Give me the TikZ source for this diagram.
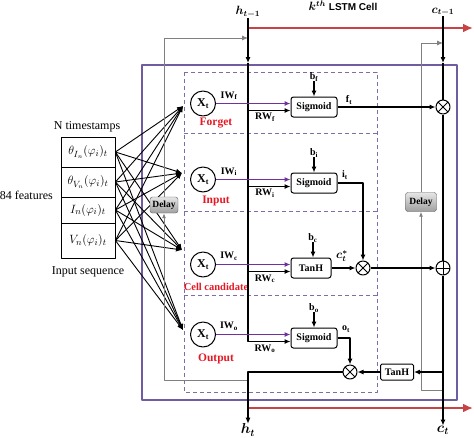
\documentclass[tikz,border=0pt]{standalone}
\usepackage{fontspec}
\usepackage{bm}
\setmainfont{Liberation Serif}
\newfontfamily\cellsans{Liberation Sans}
\usetikzlibrary{arrows.meta,calc}

\definecolor{cellpurple}{RGB}{112,92,160}
\definecolor{iwpurple}{RGB}{112,48,160}
\definecolor{dashpurple}{RGB}{128,108,168}
\definecolor{flowred}{RGB}{200,68,68}
\definecolor{gatered}{RGB}{228,24,36}
\definecolor{loopgray}{RGB}{128,128,128}

\begin{document}
\begin{tikzpicture}[x=1pt,y=-1pt,line join=round,
    >={Latex[length=6pt,width=5pt]},
    wire/.style={line width=1.1pt},
    inwire/.style={line width=0.9pt},
    iwwire/.style={line width=1.1pt,draw=iwpurple,-{Latex[length=6pt,width=5pt,fill=iwpurple]}},
    loopwire/.style={line width=0.9pt,draw=loopgray},
    redflow/.style={line width=2.6pt,draw=flowred,-{Latex[length=10pt,width=9pt]}},
    dashbox/.style={draw=dashpurple,line width=0.9pt,dash pattern=on 4pt off 3pt},
    gatebox/.style={draw,line width=1pt,rounded corners=2.5pt,minimum width=46pt,
        minimum height=20pt,inner sep=1pt,font=\bfseries\fontsize{10}{11}\selectfont},
    xcirc/.style={draw,circle,line width=1pt,minimum size=25pt,inner sep=0pt,
        font=\bfseries\fontsize{12}{13}\selectfont},
    opcirc/.style={draw,circle,line width=1pt,minimum size=14pt,inner sep=0pt},
    timesop/.style={opcirc,path picture={
        \draw[line width=1pt] (path picture bounding box.north west) -- (path picture bounding box.south east)
            (path picture bounding box.north east) -- (path picture bounding box.south west);}},
    sumop/.style={opcirc,path picture={
        \draw[line width=1pt] (path picture bounding box.north) -- (path picture bounding box.south)
            (path picture bounding box.east) -- (path picture bounding box.west);}},
    delaybox/.style={draw=gray!70!black,rounded corners=2.5pt,top color=gray!20,bottom color=gray!75,
        inner sep=1pt,font=\bfseries\fontsize{9.5}{10}\selectfont},
    wlabel/.style={inner sep=0pt,font=\bfseries\fontsize{10}{11}\selectfont},
    gatename/.style={inner sep=0pt,text=gatered,font=\bfseries\fontsize{11.5}{12}\selectfont},
    seqcell/.style={draw,line width=0.8pt,minimum width=54pt,inner sep=0pt,font=\fontsize{13}{14}\selectfont},
    plaintext/.style={inner sep=0pt,font=\fontsize{12}{13}\selectfont},
    statelbl/.style={inner sep=0pt,font=\fontsize{12}{13}\selectfont}]
    \useasboundingbox (0,0) rectangle (474,437);

    % LSTM cell
    \draw[cellpurple,line width=2.8pt] (142,65) rectangle (457,400);
    \draw[dashbox] (184,72) rectangle (377,392);
    \foreach \yy in {133,211,295}
        \draw[dashbox] (184,\yy) -- (377,\yy);
    \node[inner sep=0pt,font=\fontsize{12}{13}\selectfont] (title) at (343,6)
        {$\bm{k^{th}}$ {\cellsans\bfseries\fontsize{10}{11}\selectfont LSTM Cell}};

    % states in and out
    \node[statelbl] (hprev) at (248,12) {$\bm{h_{t-1}}$};
    \node[statelbl] (cprev) at (443,12) {$\bm{c_{t-1}}$};
    \node[statelbl,font=\fontsize{14}{15}\selectfont] (hcur) at (248,430) {$\bm{h_t}$};
    \node[statelbl,font=\fontsize{14}{15}\selectfont] (ccur) at (443,430) {$\bm{c_t}$};
    \coordinate (hin) at (248,63);
    \coordinate (cin) at (443,63);

    % gates
    \node[gatebox] (sigf) at (314,107) {Sigmoid};
    \node[gatebox] (sigi) at (314,183) {Sigmoid};
    \node[gatebox,minimum width=40pt] (tanhc) at (311,268) {TanH};
    \node[gatebox] (sigo) at (314,338) {Sigmoid};
    \node[xcirc] (xf) at (203,103.5) {X\textsubscript{t}};
    \node[xcirc] (xi) at (203,179.5) {X\textsubscript{t}};
    \node[xcirc] (xc) at (203,264.5) {X\textsubscript{t}};
    \node[xcirc] (xo) at (203,334.5) {X\textsubscript{t}};
    \node[gatename] at (216,123) {Forget};
    \node[gatename] at (216,201) {Input};
    \node[gatename,font=\bfseries\fontsize{10.5}{11}\selectfont] at (216,287) {Cell candidate};
    \node[gatename] at (216,359) {Output};

    % pointwise operations
    \node[timesop] (mf) at (443,107) {};
    \node[timesop] (mi) at (363,268) {};
    \node[sumop] (pc) at (443,268) {};
    \node[timesop] (mo) at (350,372) {};
    \node[gatebox,minimum width=33pt,minimum height=16pt,rounded corners=1.5pt] (tanho) at (397,372) {TanH};

    % input sequence
    \node[plaintext] (nts) at (87,127) {N timestamps};
    \node[plaintext,anchor=east] (nfeat) at (53,195) {84 features};
    \node[plaintext] (inseq) at (88,272) {Input sequence};
    \node[seqcell,minimum height=30pt] (sa) at (88,152) {$\theta_{I_n}(\varphi_i)_t$};
    \node[seqcell,minimum height=30pt] (sb) at (88,182) {$\theta_{V_n}(\varphi_i)_t$};
    \node[seqcell,minimum height=26pt] (sc) at (88,210) {$I_n(\varphi_i)_t$};
    \node[seqcell,minimum height=35pt] (sd) at (88,240.5) {$V_n(\varphi_i)_t$};
    \coordinate (tf) at (183,106);
    \coordinate (ti) at (182,173);
    \coordinate (tc) at (182,250);
    \coordinate (to) at (183,330);
    \foreach \s in {sa,sb,sc,sd}
        \foreach \t in {tf,ti,tc,to}
            \draw[inwire,->] (\s.east) -- (\t);

    % delays and feedback
    \node[delaybox,minimum width=28pt,minimum height=16pt] (dll) at (164,205) {Delay};
    \node[delaybox,minimum width=31pt,minimum height=19pt] (dlr) at (421,202) {Delay};
    \coordinate (hback) at (248,380);
    \coordinate (hjoin) at (248,38);
    \coordinate (cback) at (443,390);
    \coordinate (cjoin) at (443,43);
    \draw[loopwire,-{Latex[length=5pt,width=4pt]}] (hback) -| (dll.south);
    \draw[loopwire,-{Latex[length=6pt,width=5pt]}] (dll.north) |- (hjoin);
    \draw[loopwire,-{Latex[length=5pt,width=4pt]}] (cback) -| (dlr.south);
    \draw[loopwire,-{Latex[length=6pt,width=5pt]}] (dlr.north) |- (cjoin);

    % red flows
    \coordinate (rt0) at (248,28);
    \coordinate (rt1) at (473,28);
    \coordinate (rb0) at (248,408);
    \coordinate (rb1) at (473,408);
    \draw[redflow] (rt0) -- (rt1);
    \draw[redflow] (rb0) -- (rb1);

    % hidden state line
    \draw[wire,->] (hprev.south) -- (hin);
    \coordinate (rwf) at ($(sigf.west)+(0,3.5)$);
    \coordinate (rwi) at ($(sigi.west)+(0,3.5)$);
    \coordinate (rwc) at ($(tanhc.west)+(0,3.5)$);
    \coordinate (rwo) at ($(sigo.west)+(0,3.5)$);
    \draw[wire,->] (hin) |- (rwo);
    \draw[wire,->] (rwf -| hin) -- (rwf);
    \draw[wire,->] (rwi -| hin) -- (rwi);
    \draw[wire,->] (rwc -| hin) -- (rwc);

    % input weights
    \draw[iwwire] (xf.east) -- (xf.east -| sigf.west);
    \draw[iwwire] (xi.east) -- (xi.east -| sigi.west);
    \draw[iwwire] (xc.east) -- (xc.east -| tanhc.west);
    \draw[iwwire] (xo.east) -- (xo.east -| sigo.west);
    \node[wlabel] at (229,95.5) {IW\textsubscript{f}};
    \node[wlabel] at (229,171.5) {IW\textsubscript{i}};
    \node[wlabel] at (229,256.5) {IW\textsubscript{c}};
    \node[wlabel] at (229,326.5) {IW\textsubscript{o}};
    \node[wlabel] at (265,117) {RW\textsubscript{f}};
    \node[wlabel] at (265,193) {RW\textsubscript{i}};
    \node[wlabel] at (265,279) {RW\textsubscript{c}};
    \node[wlabel] at (265,349) {RW\textsubscript{o}};

    % biases
    \node[wlabel] (bf) at (314,77) {b\textsubscript{f}};
    \node[wlabel] (bi) at (314,153) {b\textsubscript{i}};
    \node[wlabel] (bc) at (313,238) {b\textsubscript{c}};
    \node[wlabel] (bo) at (314,308) {b\textsubscript{o}};
    \draw[wire,->] (bf.south) -- (sigf.north);
    \draw[wire,->] (bi.south) -- (sigi.north);
    \draw[wire,->] (bc.south) -- (bc.south |- tanhc.north);
    \draw[wire,->] (bo.south) -- (sigo.north);

    % gate outputs
    \draw[wire,->] (sigf.east) -- (mf.west);
    \draw[wire,->] (sigi.east) -| (mi.north);
    \draw[wire,->] (tanhc.east) -- (mi.west);
    \draw[wire,->] (mi.east) -- (pc.west);
    \draw[wire,->] (sigo.east) -| (mo.north);
    \node[wlabel] at (349,100) {f\textsubscript{t}};
    \node[wlabel] at (345,175) {i\textsubscript{t}};
    \node[wlabel,font=\fontsize{12}{13}\selectfont] at (342,256) {$\bm{c_t^*}$};
    \node[wlabel] at (346,329) {o\textsubscript{t}};

    % cell state line
    \draw[wire,->] (cprev.south) -- (cin);
    \draw[wire] (cin) -- (mf.north);
    \draw[wire] (mf.south) -- (pc.north);
    \draw[wire,->] (pc.south) -- (ccur.north);
    \coordinate (ctap) at (443,372);
    \draw[wire,->] (ctap) -- (tanho.east);
    \draw[wire,->] (tanho.west) -- (mo.east);
    \draw[wire,->] (mo.west) -| (hcur.north);
\end{tikzpicture}
\end{document}
